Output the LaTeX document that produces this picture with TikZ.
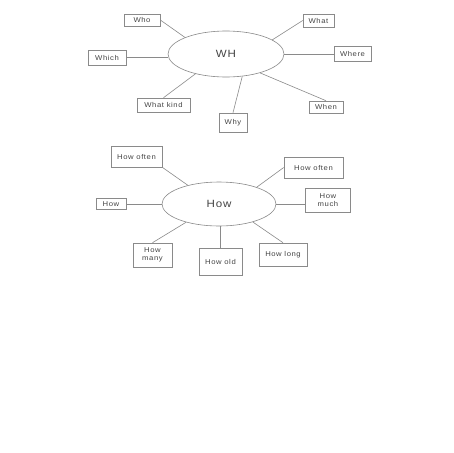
\documentclass[tikz,border=0pt]{standalone}
\usepackage{fontspec}
\setmainfont{Liberation Sans}[LetterSpace=8,FakeStretch=1.1]
\usetikzlibrary{shapes.geometric}
\begin{document}
\begin{tikzpicture}[x=1pt,y=-1pt,
  line/.style={draw=linegray,line width=0.6pt},
  wbox/.style={draw=linegray,line width=0.6pt,rectangle,inner sep=0pt,
    text=textgray,font=\fontsize{7}{8}\selectfont,align=center},
  hub/.style={draw=linegray,line width=0.6pt,ellipse,inner sep=0pt,
    text=textgray,font=\fontsize{10.5}{12}\selectfont}]
\definecolor{linegray}{HTML}{8A8A8A}
\definecolor{textgray}{HTML}{444444}
\useasboundingbox (0,0) rectangle (453,453);
\fill[white] (0,0) rectangle (453,453);
% top group
\node[hub,minimum width=116pt,minimum height=46pt] (wh) at (226,54) {WH};
\node[wbox,minimum width=36pt,minimum height=12pt] (who) at (142,20) {Who};
\node[wbox,minimum width=31pt,minimum height=13pt] (what) at (318.5,20.5) {What};
\node[wbox,minimum width=38pt,minimum height=15pt] (which) at (107,57.5) {Which};
\node[wbox,minimum width=37pt,minimum height=15pt] (where) at (352.5,54) {Where};
\node[wbox,minimum width=53pt,minimum height=14pt] (whatkind) at (163.5,105) {What kind};
\node[wbox,minimum width=28pt,minimum height=19pt] (why) at (233,122.5) {Why};
\node[wbox,minimum width=34pt,minimum height=12pt] (when) at (326,107) {When};
\draw[line] (who.east) -- (wh.158);
\draw[line] (what.west) -- (wh.17);
\draw[line] (which.east) -- (which.east -| wh.west);
\draw[line] (wh.east) -- (where.west);
\draw[line] (whatkind.north) -- (wh.213);
\draw[line] (why.north) -- (wh.306);
\draw[line] (when.north) -- (wh.331);
% bottom group
\node[hub,minimum width=114pt,minimum height=44pt] (how) at (219,204) {How};
\node[wbox,minimum width=51pt,minimum height=21pt] (oftenl) at (136.5,156.5) {How often};
\node[wbox,minimum width=59pt,minimum height=21pt] (oftenr) at (313.5,167.5) {How often};
\node[wbox,minimum width=30pt,minimum height=11pt] (howb) at (111,204) {How};
\node[wbox,minimum width=45pt,minimum height=24pt] (much) at (328,200.5) {How\\much};
\node[wbox,minimum width=39pt,minimum height=24pt] (many) at (152.5,255) {How\\many};
\node[wbox,minimum width=43pt,minimum height=27pt] (old) at (220.5,262) {How old};
\node[wbox,minimum width=48pt,minimum height=23pt] (long) at (283,254.5) {How long};
\draw[line] (oftenl.south east) -- (how.149);
\draw[line] (oftenr.west) -- (how.24);
\draw[line] (howb.east) -- (how.west);
\draw[line] (how.east) -- (how.east -| much.west);
\draw[line] (many.north) -- (how.209);
\draw[line] (old.north) -- (old.north |- how.south);
\draw[line] (long.north) -- (how.332);
\end{tikzpicture}
\end{document}
